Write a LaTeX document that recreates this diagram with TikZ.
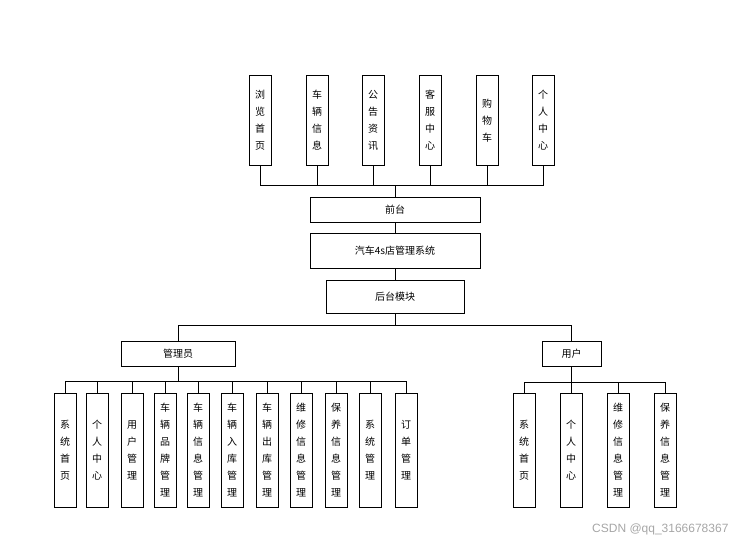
\documentclass[tikz,border=0pt]{standalone}
\usepackage{fontspec}
\setmainfont{Liberation Sans}
\newfontfamily\cjk{Noto Sans CJK SC}
\usetikzlibrary{positioning}
\tikzset{
  box/.style={draw, thin, fill=white, inner sep=0pt, font=\cjk\fontsize{10}{17}\selectfont, align=center},
  vbox/.style={box, minimum width=22pt, minimum height=#1},
  hbox/.style={box, minimum height=25pt},
  link/.style={draw, thin}
}
\begin{document}
\begin{tikzpicture}[x=1pt,y=-1pt]
  \useasboundingbox (0,0) rectangle (746,549);
  % Vordergrund
  \node[hbox, minimum width=170pt] (front) at (395,209.5) {前台};
  \node[hbox, minimum width=170pt, minimum height=35pt] (sys) at (395,250.5) {汽车4s店管理系统};
  \node[hbox, minimum width=138pt, minimum height=33pt] (back) at (395,296.5) {后台模块};
  \node[hbox, minimum width=114pt] (admin) at (178,353.5) {管理员};
  \node[hbox, minimum width=59pt] (user) at (571.5,353.5) {用户};
  \foreach \name/\x/\txt in {t1/260/浏\\览\\首\\页, t2/317/车\\辆\\信\\息, t3/373/公\\告\\资\\讯,
      t4/430/客\\服\\中\\心, t5/487/购\\物\\车, t6/543/个\\人\\中\\心}
  {
    \node[vbox=90pt, anchor=north] (\name) at (\x,75) {\txt};
    \draw[link] (\name.south) -- ++(0,20) -| (front.north);
  }
  \draw[link] (front.south) -- (sys.north);
  \draw[link] (sys.south) -- (back.north);
  \draw[link] (back.south) -- ++(0,12) -| (admin.north);
  \draw[link] (back.south) -- ++(0,12) -| (user.north);
  \foreach \name/\x/\txt in {a1/65/系\\统\\首\\页, a2/97/个\\人\\中\\心, a3/132/用\\户\\管\\理,
      a4/165/车\\辆\\品\\牌\\管\\理, a5/198/车\\辆\\信\\息\\管\\理, a6/232/车\\辆\\入\\库\\管\\理,
      a7/267/车\\辆\\出\\库\\管\\理, a8/301/维\\修\\信\\息\\管\\理, a9/336/保\\养\\信\\息\\管\\理,
      a10/370/系\\统\\管\\理, a11/406/订\\单\\管\\理}
  {
    \node[vbox=114pt, anchor=north] (\name) at (\x,393) {\txt};
    \draw[link] (admin.south) -- ++(0,15) -| (\name.north);
  }
  \foreach \name/\x/\txt in {u1/524/系\\统\\首\\页, u2/571/个\\人\\中\\心,
      u3/618/维\\修\\信\\息\\管\\理, u4/665/保\\养\\信\\息\\管\\理}
  {
    \node[vbox=114pt, anchor=north] (\name) at (\x,393) {\txt};
    \draw[link] (user.south) -- ++(0,16) -| (\name.north);
  }
  \node[anchor=east, text=gray!70, font=\fontsize{12}{14}\selectfont] (mark) at (732,529) {CSDN @qq\_3166678367};
\end{tikzpicture}
\end{document}
